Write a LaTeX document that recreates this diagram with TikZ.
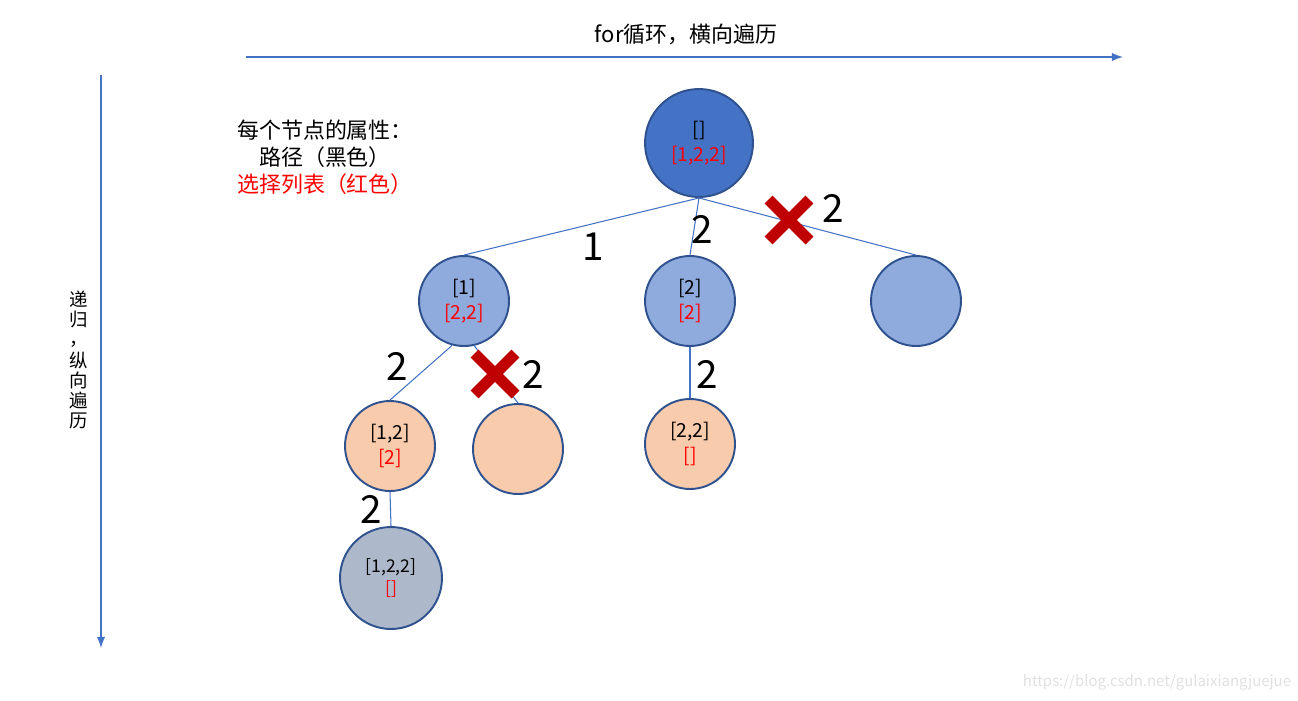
\documentclass[tikz,border=0pt]{standalone}
\usepackage{fontspec}
\setmainfont{Noto Sans CJK SC}
\definecolor{rootBlue}{RGB}{68,114,196}
\definecolor{edgeBlue}{RGB}{47,82,143}
\definecolor{midBlue}{RGB}{143,170,220}
\definecolor{peach}{RGB}{248,203,173}
\definecolor{slate}{RGB}{173,185,202}
\definecolor{cutRed}{RGB}{192,0,0}
\usetikzlibrary{shapes,arrows}

\begin{document}
\begin{tikzpicture}[
  x=0.02cm, y=-0.02cm,
  state/.style={
    circle, draw=edgeBlue, line width=1.1pt, align=center,
    font=\fontsize{11}{14}\selectfont, inner sep=0pt
  },
  rootnode/.style={state, fill=rootBlue, minimum size=2.16cm},
  lvlone/.style={state, fill=midBlue, minimum size=1.8cm},
  lvltwo/.style={state, fill=peach, minimum size=1.8cm},
  leafnode/.style={state, fill=slate, minimum size=2.04cm,
    font=\fontsize{10}{12.5}\selectfont},
  branch/.style={draw=rootBlue, line width=0.6pt},
  axis/.style={->, >=latex, draw=rootBlue, line width=1.2pt},
  elabel/.style={font=\fontsize{22}{22}\selectfont, inner sep=0pt},
  cut/.style={cross out, draw=cutRed, line width=0.22cm, minimum size=0.6cm},
  note/.style={font=\fontsize{12.5}{15}\selectfont, inner sep=0pt}
]
  \useasboundingbox (0,0) rectangle (1298,700);

  % axes
  \coordinate (hs) at (246,57);
  \coordinate (he) at (1123,57);
  \coordinate (vs) at (101,75);
  \coordinate (ve) at (101,648);
  \draw[axis] (hs) -- (he);
  \draw[axis] (vs) -- (ve);
  \node[note] (htext) at (686,34) {for循环，横向遍历};
  \node[note, align=center, font=\fontsize{10.5}{11.5}\selectfont] (vtext) at (79,360)
    {递\\归\\[-1pt]，\\[1pt]纵\\向\\遍\\历};

  % legend
  \node[note] (lg1) at (325,130) {每个节点的属性：};
  \node[note] (lg2) at (325,157) {路径（黑色）};
  \node[note, text=red] (lg3) at (325,184) {选择列表（红色）};

  % tree
  \node[rootnode] (r) at (699,143) {[]\\\textcolor{red}{[1,2,2]}};
  \node[lvlone] (a) at (464,301) {[1]\\\textcolor{red}{[2,2]}};
  \node[lvlone] (b) at (690,301) {[2]\\\textcolor{red}{[2]}};
  \node[lvlone] (c) at (916,301) {};
  \node[lvltwo] (d) at (390,446) {[1,2]\\\textcolor{red}{[2]}};
  \node[lvltwo] (e) at (518,449) {};
  \node[lvltwo] (f) at (690,444) {[2,2]\\\textcolor{red}{[]}};
  \node[leafnode] (g) at (391,578) {[1,2,2]\\\textcolor{red}{[]}};

  \draw[branch] (r.south) -- (a.north);
  \draw[branch] (r.south) -- (b.north);
  \draw[branch] (r.south) -- (c.north);
  \draw[branch] (a.-105) -- (d.north);
  \draw[branch] (a.-77) -- (e.north);
  \draw[branch] (b.south) -- (f.north);
  \draw[branch] (d.south) -- (g.north);

  % labels on branches
  \node[elabel] (n1) at (593,247) {1};
  \node[elabel] (n2) at (702,229) {2};
  \node[elabel] (n3) at (833,208) {2};
  \node[elabel] (n4) at (397,366) {2};
  \node[elabel] (n5) at (533,374) {2};
  \node[elabel] (n6) at (707,374) {2};
  \node[elabel] (n7) at (371,509) {2};

  % pruned branches
  \node[cut] (x1) at (789,220) {};
  \node[cut] (x2) at (495,374) {};

  \node[font=\fontsize{8.5}{10}\selectfont, text=black!12, inner sep=0pt] (wm) at (1157,682)
    {https://blog.csdn.net/gulaixiangjuejue};
\end{tikzpicture}
\end{document}
